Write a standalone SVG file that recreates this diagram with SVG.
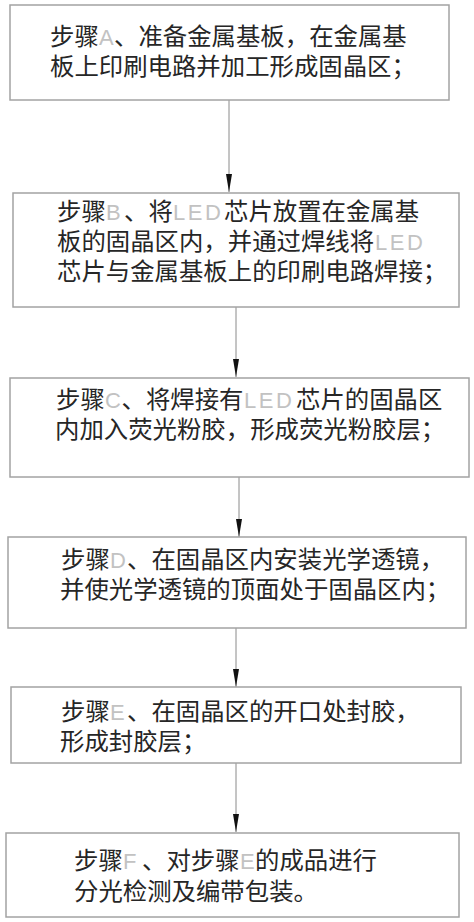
<svg xmlns="http://www.w3.org/2000/svg" width="474" height="922" viewBox="0 0 474 922">
<defs>
<style>
.box{fill:#ffffff;stroke:#a3a3a3;stroke-width:1.5}
.t{font-family:"Noto Sans CJK SC","Noto Sans CJK JP",sans-serif;font-size:24.4px;fill:#262626}
.l{font-family:"Liberation Sans","DejaVu Sans",sans-serif;font-size:22px;fill:#c2c2c2}
.led{letter-spacing:2.5px}
.c{stroke:#8a8a8a;stroke-width:1;fill:none}
</style>
<marker id="ah" markerUnits="userSpaceOnUse" markerWidth="18" markerHeight="6" refX="18" refY="3" orient="auto">
<path d="M0,0 L18,3 L0,6 z" fill="#111"/>
</marker>
</defs>
<rect width="474" height="922" fill="#ffffff"/>
<g id="connectors">
<line class="c" x1="229" y1="100" x2="229" y2="192" marker-end="url(#ah)"/>
<line class="c" x1="236" y1="307" x2="236" y2="377" marker-end="url(#ah)"/>
<line class="c" x1="239" y1="477" x2="239" y2="537" marker-end="url(#ah)"/>
<line class="c" x1="236" y1="628" x2="236" y2="687" marker-end="url(#ah)"/>
<line class="c" x1="236" y1="763" x2="236" y2="832" marker-end="url(#ah)"/>
</g>
<g id="stepA">
<rect class="box" x="10" y="5" width="439" height="95"/>
<text class="t" y="45"><tspan x="50">步骤</tspan><tspan class="l" x="99">A</tspan><tspan x="114">、准备金属基板，在金属基</tspan></text>
<text class="t" x="50" y="75">板上印刷电路并加工形成固晶区；</text>
</g>
<g id="stepB">
<rect class="box" x="13" y="193" width="446" height="114"/>
<text class="t" y="220"><tspan x="57">步骤</tspan><tspan class="l" x="106">B</tspan><tspan x="124">、将</tspan><tspan class="l led" x="173">LED</tspan><tspan x="224">芯片放置在金属基</tspan></text>
<text class="t" y="250"><tspan x="57">板的固晶区内，并通过焊线将</tspan><tspan class="l led" x="375">LED</tspan></text>
<text class="t" x="57" y="280">芯片与金属基板上的印刷电路焊接；</text>
</g>
<g id="stepC">
<rect class="box" x="10" y="378" width="459" height="99"/>
<text class="t" y="408"><tspan x="56">步骤</tspan><tspan class="l" x="105">C</tspan><tspan x="121.5">、将焊接有</tspan><tspan class="l led" x="244">LED</tspan><tspan x="296">芯片的固晶区</tspan></text>
<text class="t" x="55" y="438">内加入荧光粉胶，形成荧光粉胶层；</text>
</g>
<g id="stepD">
<rect class="box" x="8" y="537" width="458" height="91"/>
<text class="t" y="568"><tspan x="61">步骤</tspan><tspan class="l" x="110">D</tspan><tspan x="127">、在固晶区内安装光学透镜，</tspan></text>
<text class="t" x="60" y="598">并使光学透镜的顶面处于固晶区内；</text>
</g>
<g id="stepE">
<rect class="box" x="11" y="687" width="450" height="76"/>
<text class="t" y="720"><tspan x="61">步骤</tspan><tspan class="l" x="110">E</tspan><tspan x="127">、在固晶区的开口处封胶，</tspan></text>
<text class="t" x="60" y="750">形成封胶层；</text>
</g>
<g id="stepF">
<rect class="box" x="6" y="833" width="453" height="84"/>
<text class="t" y="869"><tspan x="74">步骤</tspan><tspan class="l" x="123">F</tspan><tspan x="142">、对步骤</tspan><tspan class="l" x="240">E</tspan><tspan x="255">的成品进行</tspan></text>
<text class="t" x="74" y="900">分光检测及编带包装。</text>
</g>
</svg>
